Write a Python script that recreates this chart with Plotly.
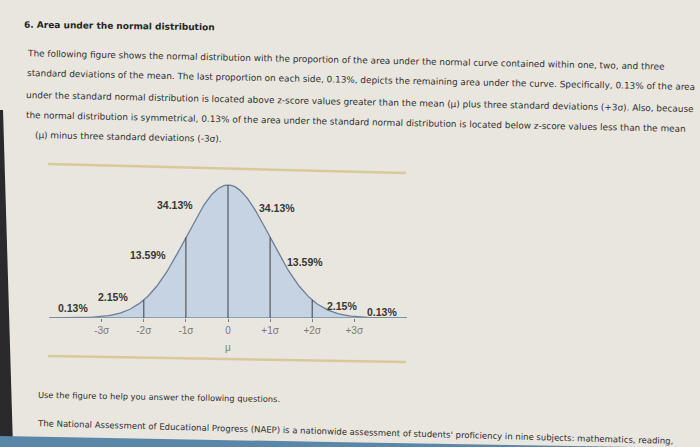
import numpy as np
import plotly.graph_objects as go

# ---------------- data ----------------
mu = 0.0
sigma = 1.0
sigma_ticks = [-3, -2, -1, 0, 1, 2, 3]
tick_labels = ["-3σ", "-2σ", "-1σ", "0", "+1σ", "+2σ", "+3σ"]
divider_positions = [-2, -1, 0, 1, 2]
area_labels = ["0.13%", "2.15%", "13.59%", "34.13%", "34.13%", "13.59%", "2.15%", "0.13%"]
area_label_x = [-3.69, -2.74, -1.90, -1.26, 1.17, 1.83, 2.71, 3.67]
area_label_y = [0.030, 0.063, 0.189, 0.339, 0.330, 0.168, 0.036, 0.019]

title_text = "6. Area under the normal distribution"
body_lines = [
    "The following figure shows the normal distribution with the proportion of the area under the normal curve contained within one, two, and three",
    "standard deviations of the mean. The last proportion on each side, 0.13%, depicts the remaining area under the curve. Specifically, 0.13% of the area",
    "under the standard normal distribution is located above z-score values greater than the mean (μ) plus three standard deviations (+3σ). Also, because",
    "the normal distribution is symmetrical, 0.13% of the area under the standard normal distribution is located below z-score values less than the mean",
    "(μ) minus three standard deviations (-3σ).",
]
footer_lines = [
    "Use the figure to help you answer the following questions.",
    "The National Assessment of Educational Progress (NAEP) is a nationwide assessment of students' proficiency in nine subjects: mathematics, reading,",
]

W, H = 700, 447


def pdf(x):
    return np.exp(-0.5 * ((x - mu) / sigma) ** 2) / (sigma * np.sqrt(2 * np.pi))


def px(x):
    return x / W


def py(y):
    return 1 - y / H


xs = np.linspace(-4.25, 4.25, 400)
ys = pdf(xs)

fig = go.Figure()

fig.add_trace(go.Scatter(
    x=xs, y=ys, mode="lines", fill="tozeroy",
    fillcolor="#c6d3e3", line=dict(color="#6c7e96", width=1.3),
    hoverinfo="skip", showlegend=False,
))
fig.add_trace(go.Scatter(
    x=[xs[0], xs[-1]], y=[0, 0], mode="lines",
    line=dict(color="#7d8ea3", width=1.5), hoverinfo="skip", showlegend=False,
))
for d in divider_positions:
    fig.add_trace(go.Scatter(
        x=[d, d], y=[0, pdf(d)], mode="lines",
        line=dict(color="#3b3f45", width=1), hoverinfo="skip", showlegend=False,
    ))

for t, x, y in zip(area_labels, area_label_x, area_label_y):
    fig.add_annotation(x=x, y=y, xref="x", yref="y", text="<b>" + t + "</b>", showarrow=False,
                       font=dict(family="Liberation Sans, Arial", size=10.5, color="#363636"),
                       xanchor="center", yanchor="middle")

fig.add_annotation(x=0, y=py(347), xref="x", yref="paper", text="μ", showarrow=False,
                   font=dict(family="Liberation Sans, Arial", size=10, color="#808080"),
                   xanchor="center", yanchor="middle")

body_font = dict(family="DejaVu Sans, Verdana", size=8.9, color="#303030")


def tilted(text, left_x, left_y, width, angle, font):
    s = np.sin(np.radians(angle))
    cx = left_x + width / 2
    cy = left_y + width / 2 * s
    fig.add_annotation(x=px(cx), y=py(cy), xref="paper", yref="paper", text=text,
                       showarrow=False, font=font, textangle=angle,
                       xanchor="center", yanchor="middle")


tilted("<b>" + title_text + "</b>", 27, 25, 185, 0.8,
       dict(family="DejaVu Sans, Verdana", size=9, color="#262626"))

line_left_y = [53, 73, 95, 115, 135]
line_widths = [638, 668, 665, 659, 203]
for t, ly, w in zip(body_lines, line_left_y, line_widths):
    tilted(t, 27, ly, w, 1.2, body_font)

tilted(footer_lines[0], 38, 395, 242, 1.0, dict(body_font, size=8.3))
tilted(footer_lines[1], 38, 423, 634, 1.6, dict(body_font, size=8.5))

shapes = [
    dict(type="line", xref="paper", yref="paper", x0=px(48), y0=py(164), x1=px(406), y1=py(173),
         line=dict(color="#d8c89c", width=2.5)),
    dict(type="line", xref="paper", yref="paper", x0=px(48), y0=py(356), x1=px(406), y1=py(362),
         line=dict(color="#d8c89c", width=2.5)),
    dict(type="path", xref="paper", yref="paper",
         path=f"M 0 {py(110)} L {px(3)} {py(110)} L {px(13)} {py(447)} L 0 {py(447)} Z",
         fillcolor="#2a2a2c", line=dict(width=0)),
    dict(type="path", xref="paper", yref="paper",
         path=f"M 0 {py(436)} L {px(330)} {py(442)} L {px(700)} {py(448)} L {px(700)} 0 L 0 0 Z",
         fillcolor="#5a86a8", line=dict(width=0)),
]

fig.update_layout(
    width=W, height=H,
    margin=dict(l=0, r=0, t=0, b=0),
    paper_bgcolor="#e8e6df", plot_bgcolor="rgba(0,0,0,0)",
    shapes=shapes,
    xaxis=dict(domain=[px(47), px(409)], range=[-4.3, 4.3], showgrid=False, zeroline=False,
               showline=False, tickvals=sigma_ticks, ticktext=tick_labels,
               ticks="outside", ticklen=3, tickcolor="#6d7f95", tickwidth=1.2,
               tickfont=dict(family="Liberation Sans, Arial", size=10, color="#7a7a7a")),
    yaxis=dict(domain=[py(318), py(175)], range=[0, 0.4289], visible=False),
    showlegend=False,
)

fig.write_html("out.html", config={"displayModeBar": False},
               post_script="document.body.style.margin='0';document.body.style.overflow='hidden';")
